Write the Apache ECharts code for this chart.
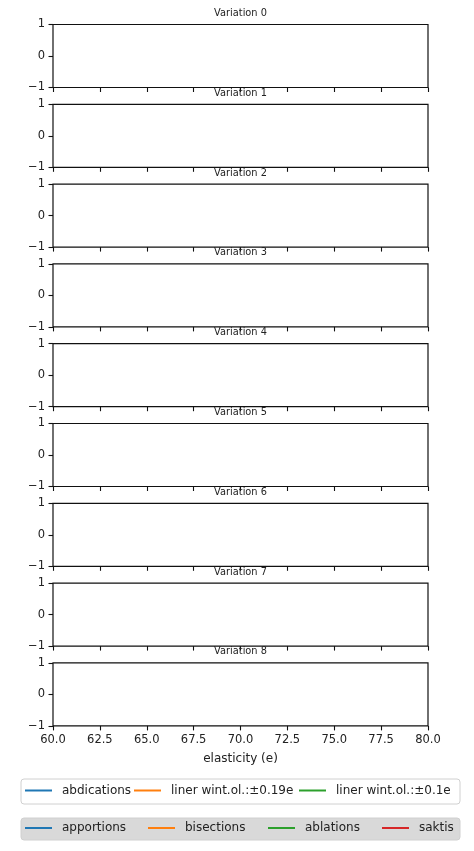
<!DOCTYPE html>
<html>
<head>
<meta charset="utf-8">
<script src="https://cdn.jsdelivr.net/npm/echarts@6/dist/echarts.min.js"></script>
<style>
  html, body { margin: 0; padding: 0; background: #fff; }
  #chart { width: 474px; height: 851px; }
</style>
</head>
<body>
<div id="chart"></div>
<script>
// data
var panelTitles = ['Variation 0', 'Variation 1', 'Variation 2', 'Variation 3', 'Variation 4',
  'Variation 5', 'Variation 6', 'Variation 7', 'Variation 8'];
var xMin = 60, xMax = 80, xStep = 2.5;
var yMin = -1, yMax = 1, yStep = 1;
var xLabel = 'elasticity (e)';

// legend 1 series (no points drawn in the reference)
var legendTopNames = ['abdications', 'liner wint.ol.:\u00b10.19e', 'liner wint.ol.:\u00b10.1e'];
var legendTopColors = ['#1f77b4', '#ff7f0e', '#2ca02c'];
var legendTopValues = [[], [], []];
// legend 2 series
var legendBotNames = ['apportions', 'bisections', 'ablations', 'saktis'];
var legendBotColors = ['#1f77b4', '#ff7f0e', '#2ca02c', '#d62728'];
var legendBotValues = [[], [], [], []];

var chart = echarts.init(document.getElementById('chart'));

var font = 'DejaVu Sans';
var plotLeft = 53, plotRight = 46, plotTop0 = 24.5, plotStep = 79.8, plotH = 63;
var n = panelTitles.length;

var grids = [], xAxes = [], yAxes = [], titles = [];
panelTitles.forEach(function (t, i) {
  var top = plotTop0 + plotStep * i;
  var last = i === n - 1;
  // the grid border is the axes frame
  grids.push({
    left: plotLeft, right: plotRight, top: top, height: plotH,
    show: true, borderColor: '#111', borderWidth: 1.2, backgroundColor: 'transparent'
  });
  xAxes.push({
    type: 'value', gridIndex: i, min: xMin, max: xMax, interval: xStep,
    axisLine: { show: false, onZero: false },
    axisTick: { show: true, length: 4.5, lineStyle: { color: '#111', width: 1.1 } },
    splitLine: { show: false },
    axisLabel: {
      show: true, color: '#222', fontFamily: font, fontSize: 11.5, margin: 8,
      // only the bottom panel prints its tick values
      formatter: function (v) { return last ? v.toFixed(1) : ''; }
    },
    name: last ? xLabel : '', nameLocation: 'middle', nameGap: 27,
    nameTextStyle: { color: '#222', fontFamily: font, fontSize: 12 }
  });
  yAxes.push({
    type: 'value', gridIndex: i, min: yMin, max: yMax, interval: yStep,
    axisLine: { show: false, onZero: false },
    axisTick: { show: true, length: 4.5, lineStyle: { color: '#111', width: 1.1 } },
    splitLine: { show: false },
    axisLabel: {
      color: '#222', fontFamily: font, fontSize: 11.5, margin: 8,
      formatter: function (v) { return String(v).replace('-', '\u2212'); }
    }
  });
  titles.push({
    text: t, left: 240.5, top: top - 16, textAlign: 'center', padding: 0,
    textStyle: { color: '#222', fontFamily: font, fontSize: 9.8, fontWeight: 'normal' }
  });
});

var series = [];
legendTopNames.forEach(function (nm, k) {
  series.push({ name: nm, type: 'line', xAxisIndex: n - 1, yAxisIndex: n - 1,
    data: legendTopValues[k], color: legendTopColors[k], showSymbol: false });
});
legendBotNames.forEach(function (nm, k) {
  series.push({ name: nm, type: 'line', xAxisIndex: n - 1, yAxisIndex: n - 1,
    data: legendBotValues[k], color: legendBotColors[k], showSymbol: false });
});

// one legend per item, placed like the matplotlib legend rows
var topRowX = [25, 134, 299];
var botRowX = [25, 148, 268, 382];
var legends = [];
function addLegend(name, color, x, yc) {
  legends.push({
    data: [name], left: x, top: yc - 7, padding: 0, selectedMode: false,
    icon: 'rect', itemWidth: 27, itemHeight: 2,
    itemStyle: { color: color },
    textStyle: { color: '#222', fontFamily: font, fontSize: 12, padding: [0, 0, 0, 5] }
  });
}
legendTopNames.forEach(function (nm, k) { addLegend(nm, legendTopColors[k], topRowX[k], 791.5); });
legendBotNames.forEach(function (nm, k) { addLegend(nm, legendBotColors[k], botRowX[k], 829); });

var option = {
  backgroundColor: '#fff',
  animation: false,
  title: titles,
  grid: grids,
  xAxis: xAxes,
  yAxis: yAxes,
  legend: legends,
  graphic: [
    { type: 'rect', z: -1, shape: { x: 21, y: 779, width: 439, height: 25, r: 3 },
      style: { fill: '#fff', stroke: '#d0d0d0', lineWidth: 1 } },
    { type: 'rect', z: -1, shape: { x: 21, y: 818, width: 439, height: 22, r: 3 },
      style: { fill: '#d9d9d9', stroke: '#d0d0d0', lineWidth: 1 } }
  ],
  series: series
};
chart.setOption(option);
</script>
</body>
</html>
